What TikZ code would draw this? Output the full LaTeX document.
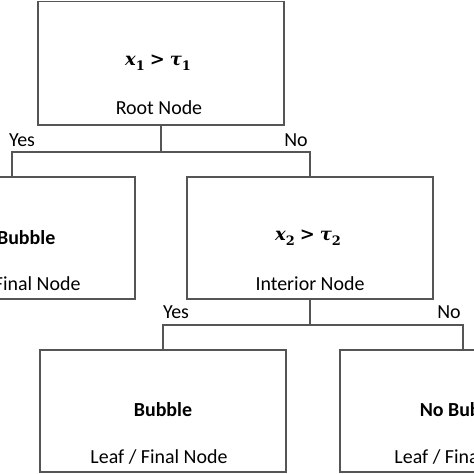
\documentclass[tikz,border=0pt]{standalone}
\usepackage{fontspec}
\setmainfont{Carlito}
\newfontfamily\mathserif{DejaVu Serif}
\newcommand{\vsub}[2]{{\bfseries\itshape #1}\raisebox{-0.28em}{\fontsize{13}{14}\selectfont\bfseries #2}}
\newcommand{\cond}[1]{\vsub{x}{#1}\hspace{0.28em}{\bfseries >}\hspace{0.28em}\vsub{τ}{#1}}
\definecolor{linegray}{HTML}{555555}
\begin{document}
\begin{tikzpicture}[x=1bp,y=-1bp,
  box/.style={draw=linegray,line width=1.6bp,minimum width=246bp,inner sep=0pt,fill=white},
  lbl/.style={font=\fontsize{20}{22}\selectfont,inner sep=0pt,text=black},
  bold/.style={font=\fontsize{20}{22}\selectfont\bfseries,inner sep=0pt,text=black},
  mth/.style={font=\mathserif\fontsize{18}{20}\selectfont,inner sep=0pt,text=black},
  conn/.style={draw=linegray,line width=1.6bp}]
\useasboundingbox (0,0) rectangle (474,474);
\clip (0,0) rectangle (474,474);
\node[box,minimum height=123.5bp] (root) at (161,63.25) {};
\node[box,minimum height=122bp] (left) at (12,238) {};
\node[box,minimum height=122bp] (inter) at (310,238) {};
\node[box,minimum height=122bp] (bl) at (163,411) {};
\node[box,minimum height=122bp] (br) at (463,411) {};
\draw[conn] (root.south) -- ++(0,26) coordinate (j1) -| (left.north);
\draw[conn] (j1) -| (inter.north);
\draw[conn] (inter.south) -- ++(0,25) coordinate (j2) -| (bl.north);
\draw[conn] (j2) -| (br.north);
\node[mth] (m1) at (158,63) {\cond{1}};
\node[lbl] (t1) at (159,108) {Root Node};
\node[bold] (b1) at (12,238) {No Bubble};
\node[lbl] (t2) at (12,284) {Leaf / Final Node};
\node[mth] (m2) at (308,238) {\cond{2}};
\node[lbl] (t3) at (310,284) {Interior Node};
\node[bold] (b2) at (163,410) {Bubble};
\node[lbl] (t4) at (159,457) {Leaf / Final Node};
\node[bold] (b3) at (463,410) {No Bubble};
\node[lbl] (t5) at (463,457) {Leaf / Final Node};
\node[lbl] (y1) at (22,140) {Yes};
\node[lbl] (n1) at (296,140) {No};
\node[lbl] (y2) at (176,312) {Yes};
\node[lbl] (n2) at (449,312) {No};
\end{tikzpicture}
\end{document}
